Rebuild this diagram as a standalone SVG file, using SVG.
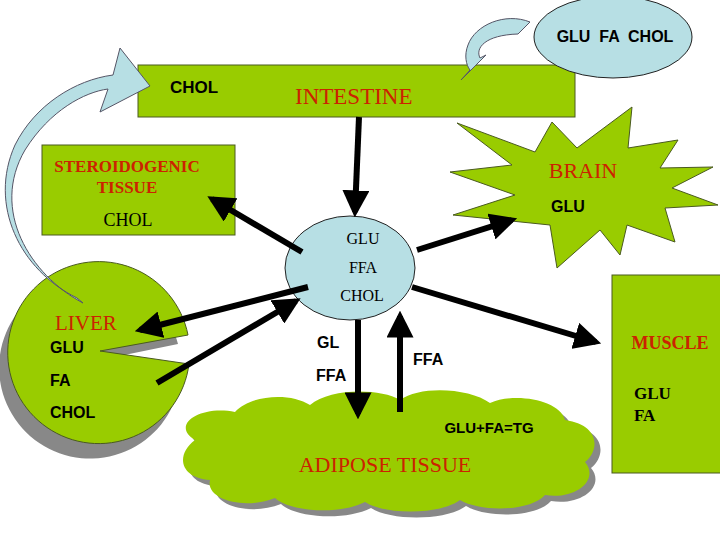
<svg xmlns="http://www.w3.org/2000/svg" width="720" height="540" viewBox="0 0 720 540">
<style>
.g{fill:#99cc00;stroke:#4a5a20;stroke-width:1}
.b{fill:#b7dfe4;stroke:#222;stroke-width:1}
.sh{fill:#888}
.red{fill:#cc2200;font-family:"Liberation Serif",serif}
.sans{font-family:"Liberation Sans",Arial,sans-serif;font-weight:bold;fill:#000}
.serif{font-family:"Liberation Serif",serif;fill:#000}
.ar{stroke:#000;stroke-width:6;fill:none;marker-end:url(#ah)}
</style>
<defs>
<marker id="ah" viewBox="0 0 10 10" refX="8" refY="5" markerWidth="4.5" markerHeight="4.5" orient="auto" markerUnits="strokeWidth"><path d="M0,0L10,5L0,10z" fill="#000"/></marker>
<path id="cloud" d="M195,440 C170,425 200,405 235,412 C250,395 290,392 310,405 C330,388 380,388 400,400 C420,385 470,388 490,403 C515,392 560,400 565,420 C600,425 600,450 585,462 C600,480 575,500 545,495 C530,512 480,512 460,500 C440,515 385,515 365,502 C340,515 290,512 275,498 C245,510 205,500 210,480 C180,478 175,455 195,440Z"/>
</defs>
<g id="intestine"><rect class="g" x="138" y="65" width="437" height="52"/><text class="sans" x="170" y="93" font-size="17">CHOL</text><text class="red" x="295" y="104" font-size="23">INTESTINE</text></g>
<g id="food"><ellipse class="b" cx="613" cy="37" rx="79" ry="41"/><text class="sans" x="615" y="42" font-size="16" text-anchor="middle" xml:space="preserve">GLU  FA  CHOL</text></g>
<g id="foodarrow"><path d="M530,22 C505,12 475,25 468,45 C464,55 466,65 470,70 L461,80 L486,55 L480,58 C475,48 485,35 518,34Z" fill="#b7dfe4" stroke="#556" stroke-width="1"/></g>
<g id="brain"><polygon class="g" points="457,123 535,152 552,122 577,148 632,107 628,148 678,140 660,168 713,167 672,188 718,205 665,208 675,242 627,225 620,255 600,230 557,268 550,225 453,215 515,195 450,172 512,165"/><text class="red" x="583" y="178" font-size="22" text-anchor="middle">BRAIN</text><text class="sans" x="568" y="212" font-size="16" text-anchor="middle">GLU</text></g>
<g id="steroid"><rect class="g" x="42" y="145" width="193" height="90"/><text class="red" x="127" y="172" font-size="17" font-weight="bold" text-anchor="middle">STEROIDOGENIC</text><text class="red" x="127" y="193" font-size="17" font-weight="bold" text-anchor="middle">TISSUE</text><text class="serif" x="128" y="226" font-size="18" text-anchor="middle">CHOL</text></g>
<g id="liver"><path class="sh" d="M184,338 A91,91 0 1 0 187,366 L101,355Z" transform="translate(-6,6)"/><path class="g" d="M188,335 A91,91 0 1 0 189,364 L100,351Z"/><text class="red" x="55" y="330" font-size="21">LIVER</text><text class="sans" x="50" y="353" font-size="16">GLU</text><text class="sans" x="50" y="386" font-size="16">FA</text><text class="sans" x="50" y="418" font-size="16">CHOL</text></g>
<g id="recycle"><path d="M83,303 C30,275 -10,210 25,150 C50,110 85,92 108,89 L100,112 L150,86 L120,48 L113,75 C75,80 35,105 15,145 C-12,205 20,270 77,298Z" fill="#b7dfe4" stroke="#556" stroke-width="1"/></g>
<g id="center"><ellipse class="b" cx="350" cy="268" rx="65" ry="52"/><text class="serif" x="363" y="244" font-size="16" text-anchor="middle">GLU</text><text class="serif" x="363" y="273" font-size="16" text-anchor="middle">FFA</text><text class="serif" x="362" y="301" font-size="16" text-anchor="middle">CHOL</text></g>
<g id="adipose"><use href="#cloud" class="sh" transform="translate(6,6)"/><use href="#cloud" fill="#99cc00"/><text class="sans" x="489" y="433" font-size="15" text-anchor="middle">GLU+FA=TG</text><text class="red" x="385" y="472" font-size="22" text-anchor="middle">ADIPOSE TISSUE</text></g>
<g id="muscle"><rect class="g" x="612" y="275" width="110" height="198"/><text class="red" x="670" y="349" font-size="18" font-weight="bold" text-anchor="middle">MUSCLE</text><text class="serif" x="634" y="399" font-size="17" font-weight="bold">GLU</text><text class="serif" x="634" y="421" font-size="17" font-weight="bold">FA</text></g>
<g id="connectors">
<line class="ar" x1="359" y1="117" x2="355" y2="212"/>
<line class="ar" x1="302" y1="252" x2="212" y2="199"/>
<line class="ar" x1="417" y1="250" x2="512" y2="220"/>
<line class="ar" x1="308" y1="287" x2="140" y2="330"/>
<line class="ar" x1="157" y1="383" x2="296" y2="301"/>
<line class="ar" x1="412" y1="287" x2="596" y2="342"/>
<line class="ar" x1="358" y1="320" x2="358" y2="414"/>
<line class="ar" x1="400" y1="412" x2="400" y2="316"/>
</g>
<g id="labels"><text class="sans" x="317" y="348" font-size="16">GL</text><text class="sans" x="316" y="381" font-size="16">FFA</text><text class="sans" x="413" y="365" font-size="16">FFA</text></g>
</svg>
